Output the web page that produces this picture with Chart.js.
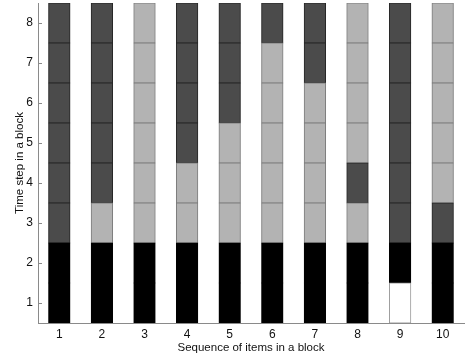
<!DOCTYPE html>
<html>
<head>
<meta charset="utf-8">
<script src="https://cdn.jsdelivr.net/npm/chart.js@4/dist/chart.umd.min.js"></script>
<style>
html,body{margin:0;padding:0;background:#fff;}
#wrap{width:474px;height:355px;position:relative;}
</style>
</head>
<body>
<div id="wrap"><canvas id="c" width="474" height="355"></canvas></div>
<script>
// Categories (items in a block)
const items = ['1','2','3','4','5','6','7','8','9','10'];
// Time steps (rows)
const steps = [1,2,3,4,5,6,7,8];
// Y tick labels
const yTicks = [1,2,3,4,5,6,7,8];
// State of each item at each time step (index = step-1)
// 'W' white, 'K' black, 'D' dark gray, 'L' light gray
const item1  = ['K','K','D','D','D','D','D','D'];
const item2  = ['K','K','L','D','D','D','D','D'];
const item3  = ['K','K','L','L','L','L','L','L'];
const item4  = ['K','K','L','L','D','D','D','D'];
const item5  = ['K','K','L','L','L','D','D','D'];
const item6  = ['K','K','L','L','L','L','L','D'];
const item7  = ['K','K','L','L','L','L','D','D'];
const item8  = ['K','K','L','D','L','L','L','L'];
const item9  = ['W','K','D','D','D','D','D','D'];
const item10 = ['K','K','D','L','L','L','L','L'];
const states = [item1,item2,item3,item4,item5,item6,item7,item8,item9,item10];

const fill = {W:'#ffffff', K:'#000000', D:'#4b4b4b', L:'#b3b3b3'};
const edge = {W:'#9a9a9a', K:'#000000', D:'#262626', L:'#7c7c7c'};

const datasets = steps.map((s, r) => ({
  label: 'Step ' + s,
  data: items.map(() => [s - 0.5, s + 0.5]),
  backgroundColor: states.map(col => fill[col[r]]),
  borderColor: states.map(col => edge[col[r]]),
  borderWidth: 1,
  borderSkipped: false,
  inflateAmount: 0.5,
  barPercentage: 0.5,
  categoryPercentage: 1.0,
  grouped: false
}));

const inwardTicks = {
  id: 'inwardTicks',
  afterDatasetsDraw(chart) {
    const ctx = chart.ctx;
    const y = chart.scales.y;
    const left = chart.chartArea.left;
    ctx.save();
    ctx.strokeStyle = '#8a8a8a';
    ctx.lineWidth = 1;
    y.ticks.forEach((t, i) => {
      const py = Math.round(y.getPixelForTick(i)) + 0.5;
      ctx.beginPath();
      ctx.moveTo(left, py);
      ctx.lineTo(left + 4, py);
      ctx.stroke();
    });
    ctx.restore();
  }
};

const family = '"Liberation Sans", Arial, Helvetica, sans-serif';
const font = {family, size: 12};
const titleFont = {family, size: 11.5};

new Chart(document.getElementById('c'), {
  type: 'bar',
  data: { labels: items, datasets },
  plugins: [inwardTicks],
  options: {
    responsive: false,
    animation: false,
    layout: { padding: { top: 3, right: 10, left: 0, bottom: 0 } },
    plugins: { legend: { display: false }, tooltip: { enabled: false } },
    scales: {
      x: {
        type: 'category',
        grid: { display: false, drawTicks: false },
        border: { display: true, color: '#8a8a8a', width: 1 },
        ticks: { color: '#111', font, padding: 4 },
        title: { display: true, text: 'Sequence of items in a block', color: '#111', font: titleFont, padding: { top: 2, bottom: 0 } },
        afterFit(scale) { scale.height = 32; scale.paddingLeft = 0; scale.paddingRight = 0; }
      },
      y: {
        type: 'linear',
        min: 0.5,
        max: 8.5,
        afterBuildTicks(scale) { scale.ticks = yTicks.map(v => ({ value: v })); },
        grid: { display: false, drawTicks: false },
        border: { display: true, color: '#8a8a8a', width: 1 },
        ticks: { color: '#111', font, padding: 5 },
        title: { display: true, text: 'Time step in a block', color: '#111', font: titleFont, padding: { top: 13, bottom: 0 } },
        afterFit(scale) { scale.width = 38; scale.paddingTop = 0; scale.paddingBottom = 0; }
      }
    }
  }
});
</script>
</body>
</html>
